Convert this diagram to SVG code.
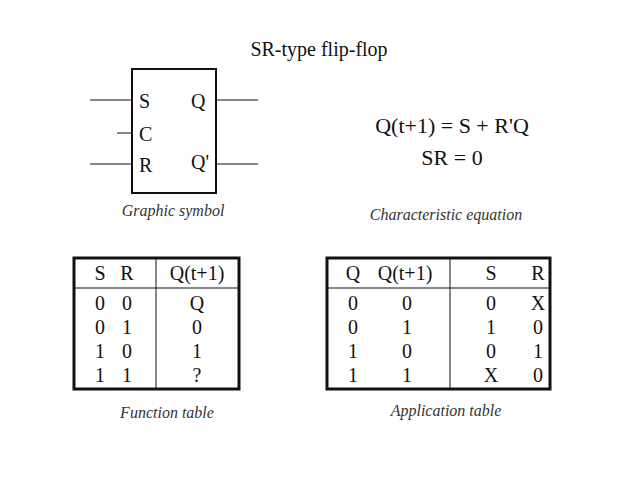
<svg xmlns="http://www.w3.org/2000/svg" width="638" height="478" viewBox="0 0 638 478">
<style>
text{font-family:"Liberation Serif",serif;fill:#111;font-size:20px}
.i{font-style:italic;font-size:16px;fill:#333}
.c{text-anchor:middle}
line,rect{stroke:#111;fill:none}
</style>
<rect width="638" height="478" fill="#fff" style="stroke:none"/>
<text x="319" y="56" class="c">SR-type flip-flop</text>
<g id="symbol">
<rect x="132" y="69" width="84" height="124" stroke-width="2"/>
<text x="139" y="108">S</text><text x="139" y="141">C</text><text x="139" y="172">R</text>
<text x="191" y="108">Q</text><text x="191" y="169">Q'</text>
</g>
<g id="connectors">
<line x1="90" y1="100" x2="132" y2="100"/>
<line x1="117" y1="133" x2="132" y2="133"/>
<line x1="90" y1="164" x2="132" y2="164"/>
<line x1="216" y1="100" x2="258" y2="100"/>
<line x1="216" y1="164" x2="258" y2="164"/>
</g>
<text x="173" y="216" class="i c">Graphic symbol</text>
<g id="equation">
<text x="452" y="133" class="c" style="font-size:22px">Q(t+1) = S + R'Q</text>
<text x="452" y="165" class="c" style="font-size:22px">SR = 0</text>
<text x="446" y="220" class="i c">Characteristic equation</text>
</g>
<g id="function">
<rect x="74" y="258" width="165" height="131" stroke-width="3"/>
<line x1="74" y1="288" x2="239" y2="288"/>
<line x1="156" y1="258" x2="156" y2="389"/>
<text x="100" y="280" class="c">S</text><text x="127" y="280" class="c">R</text><text x="197" y="280" class="c">Q(t+1)</text>
<text x="100" y="310" class="c">0</text><text x="127" y="310" class="c">0</text><text x="197" y="310" class="c">Q</text>
<text x="100" y="334" class="c">0</text><text x="127" y="334" class="c">1</text><text x="197" y="334" class="c">0</text>
<text x="100" y="358" class="c">1</text><text x="127" y="358" class="c">0</text><text x="197" y="358" class="c">1</text>
<text x="100" y="382" class="c">1</text><text x="127" y="382" class="c">1</text><text x="197" y="382" class="c">?</text>
<text x="167" y="418" class="i c">Function table</text>
</g>
<g id="application">
<rect x="327" y="258" width="223" height="131" stroke-width="3"/>
<line x1="327" y1="288" x2="550" y2="288"/>
<line x1="450" y1="258" x2="450" y2="389"/>
<text x="353" y="280" class="c">Q</text><text x="405" y="280" class="c">Q(t+1)</text><text x="491" y="280" class="c">S</text><text x="538" y="280" class="c">R</text>
<text x="353" y="310" class="c">0</text><text x="407" y="310" class="c">0</text><text x="491" y="310" class="c">0</text><text x="538" y="310" class="c">X</text>
<text x="353" y="334" class="c">0</text><text x="407" y="334" class="c">1</text><text x="491" y="334" class="c">1</text><text x="538" y="334" class="c">0</text>
<text x="353" y="358" class="c">1</text><text x="407" y="358" class="c">0</text><text x="491" y="358" class="c">0</text><text x="538" y="358" class="c">1</text>
<text x="353" y="382" class="c">1</text><text x="407" y="382" class="c">1</text><text x="491" y="382" class="c">X</text><text x="538" y="382" class="c">0</text>
<text x="446" y="416" class="i c">Application table</text>
</g>
</svg>
